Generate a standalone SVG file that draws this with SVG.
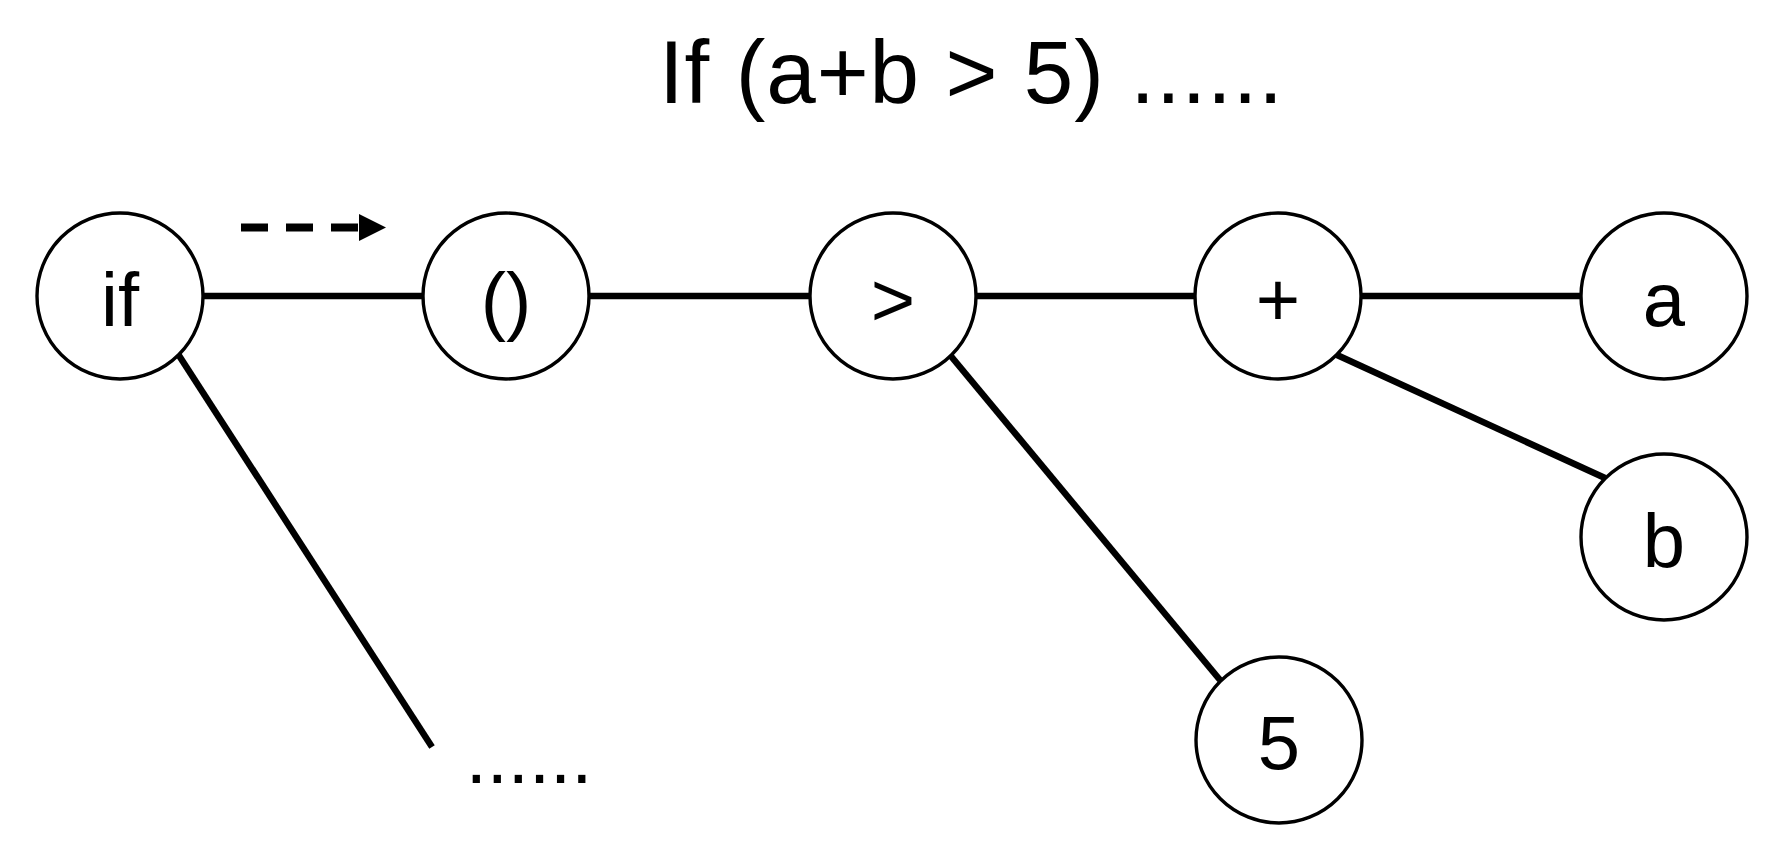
<svg xmlns="http://www.w3.org/2000/svg" width="1773" height="858" viewBox="0 0 1773 858">
<style>
.node circle{fill:#fff;stroke:#000;stroke-width:3.4}
.node text,.lbl{font-family:"Liberation Sans",Arial,sans-serif;font-size:76px;fill:#000;text-anchor:middle}
.edge{stroke:#000;stroke-width:6.5;fill:none}
.title{font-family:"Liberation Sans",Arial,sans-serif;font-size:89px;fill:#000}
</style>
<rect width="1773" height="858" fill="#fff"/>
<text class="title" x="659" y="103" textLength="624" lengthAdjust="spacing">If (a+b &gt; 5) ......</text>
<g id="connectors">
<line class="edge" x1="203" y1="296" x2="424" y2="296"/>
<line class="edge" x1="589" y1="296" x2="810" y2="296"/>
<line class="edge" x1="976" y1="296" x2="1195" y2="296"/>
<line class="edge" x1="1361" y1="296" x2="1581" y2="296"/>
<line class="edge" x1="178" y1="354" x2="432" y2="747"/>
<line class="edge" x1="950" y1="355" x2="1220" y2="680"/>
<line class="edge" x1="1337" y1="355" x2="1605" y2="478"/>
<g id="flow-arrow">
<line x1="241" y1="227.5" x2="359" y2="227.5" stroke="#000" stroke-width="8" stroke-dasharray="27 18"/>
<polygon points="359,214 386,227.5 359,241" fill="#000"/>
</g>
</g>
<g id="node-if" class="node"><circle cx="120" cy="296" r="83"/><text x="120" y="326">if</text></g>
<g id="node-paren" class="node"><circle cx="506" cy="296" r="83"/><text x="506" y="326">()</text></g>
<g id="node-gt" class="node"><circle cx="893" cy="296" r="83"/><text x="893" y="326">&gt;</text></g>
<g id="node-plus" class="node"><circle cx="1278" cy="296" r="83"/><text x="1278" y="326">+</text></g>
<g id="node-a" class="node"><circle cx="1664" cy="296" r="83"/><text x="1664" y="326">a</text></g>
<g id="node-b" class="node"><circle cx="1664" cy="537" r="83"/><text x="1664" y="567">b</text></g>
<g id="node-5" class="node"><circle cx="1279" cy="740" r="83"/><text x="1279" y="769">5</text></g>
<text class="lbl" x="529" y="783">......</text>
</svg>
